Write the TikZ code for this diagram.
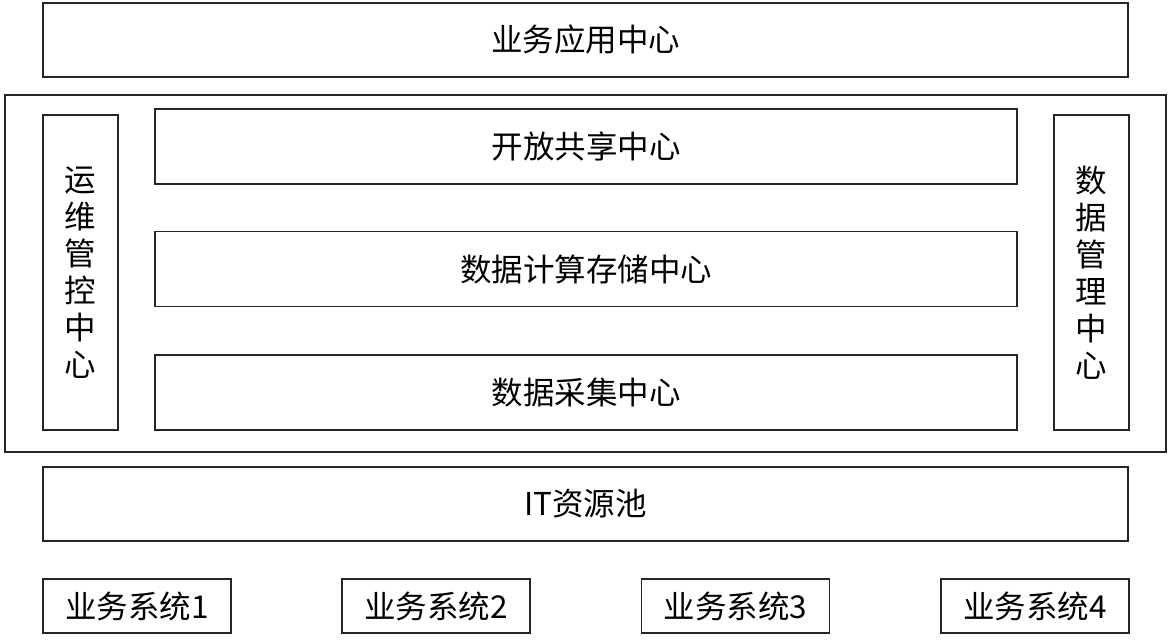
\documentclass[tikz,border=0pt]{standalone}
\usepackage{fontspec}
\setmainfont{Noto Sans CJK SC}
\begin{document}
\begin{tikzpicture}[x=1pt, y=-1pt,
                    every node/.style={inner sep=0pt, outer sep=0pt},
                    layer/.style={draw=black!85, line width=1.8pt,
                                  font=\fontsize{31.5}{37}\selectfont},
                    wide/.style={layer, minimum width=1085pt, minimum height=74pt},
                    inner/.style={layer, minimum width=862pt, minimum height=75pt},
                    side/.style={layer, minimum width=75pt, minimum height=315pt,
                                 align=center},
                    sys/.style={layer, minimum width=188pt, minimum height=54pt},]
    \useasboundingbox (0,0) rectangle (1172,642);
    % top
    \node[wide] (app) at (585.5,40) {业务应用中心};
    % middle frame
    \node[layer, minimum width=1161pt, minimum height=357pt] (frame) at (585.5,273.5) {};
    \node[side] (ops) at (80.5,272.5) {运\\维\\管\\控\\中\\心};
    \node[side] (dm) at (1091.5,272.5) {数\\据\\管\\理\\中\\心};
    \node[inner] (share) at (586,146.5) {开放共享中心};
    \node[inner] (compute) at (586,269) {数据计算存储中心};
    \node[inner] (collect) at (586,392.5) {数据采集中心};
    % bottom
    \node[wide] (pool) at (585.5,504) {IT资源池};
    \foreach \i/\x in {1/137,2/436,3/735.5,4/1035}
        \node[sys] (sys\i) at (\x,606) {业务系统\i};
\end{tikzpicture}
\end{document}
